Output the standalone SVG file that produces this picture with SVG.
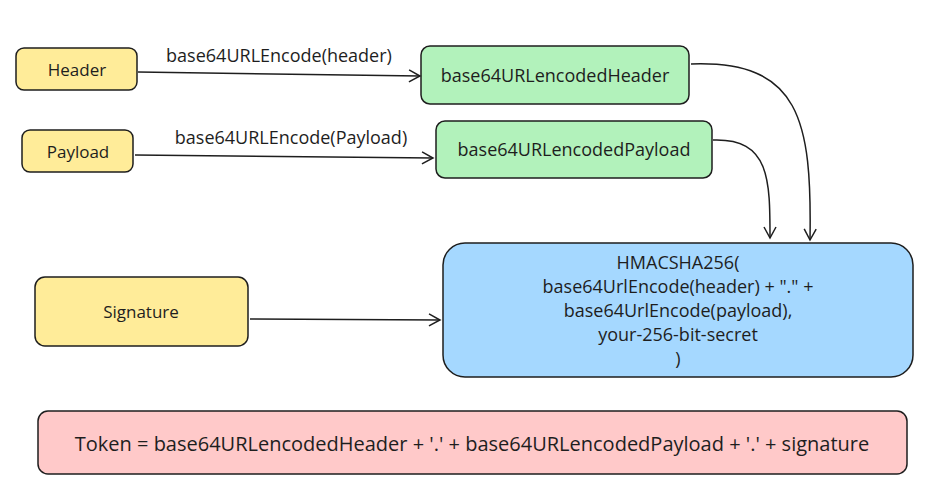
<svg xmlns="http://www.w3.org/2000/svg" width="943" height="501" viewBox="0 0 943 501">
<style>
.box{stroke:#1e1e1e;stroke-width:1.5}
.y{fill:#ffec99}.g{fill:#b2f2bb}.b{fill:#a5d8ff}.r{fill:#ffc9c9}
text{font-family:"Open Sans","Liberation Sans",sans-serif;font-size:17px;fill:#1e1e1e;text-anchor:middle;dominant-baseline:central}
.big{font-size:18px}
.c{fill:none;stroke:#1e1e1e;stroke-width:1.5;marker-end:url(#ah)}
</style>
<defs><marker id="ah" markerWidth="14" markerHeight="14" refX="12" refY="7" orient="auto" markerUnits="userSpaceOnUse"><path d="M1,1 L12,7 L1,13" fill="none" stroke="#1e1e1e" stroke-width="1.5"/></marker></defs>
<rect width="943" height="501" fill="#fff"/>
<g id="header"><rect class="box y" x="16" y="48" width="121" height="42" rx="8"/><text x="77" y="69">Header</text></g>
<g id="payload"><rect class="box y" x="22" y="130" width="111" height="42" rx="8"/><text x="78" y="151">Payload</text></g>
<g id="signature"><rect class="box y" x="35" y="277" width="213" height="69" rx="10"/><text x="141" y="311">Signature</text></g>
<g id="encHeader"><rect class="box g" x="421" y="46" width="268" height="58" rx="9"/><text class="big" x="555" y="75">base64URLencodedHeader</text></g>
<g id="encPayload"><rect class="box g" x="436" y="121" width="276" height="57" rx="9"/><text class="big" x="574" y="149">base64URLencodedPayload</text></g>
<g id="hmac"><rect class="box b" x="443" y="243" width="470" height="134" rx="22"/>
<text class="big" x="678" y="262">HMACSHA256(</text>
<text class="big" x="678" y="286">base64UrlEncode(header) + "." +</text>
<text class="big" x="678" y="310">base64UrlEncode(payload),</text>
<text class="big" x="678" y="334">your-256-bit-secret</text>
<text class="big" x="678" y="358">)</text></g>
<g id="token"><rect class="box r" x="38" y="411" width="869" height="63" rx="10"/><text x="472" y="443" style="font-size:20px">Token = base64URLencodedHeader + '.' + base64URLencodedPayload + '.' + signature</text></g>
<g id="connectors">
<path class="c" d="M138,72 L420,76"/><text class="big" x="279" y="55">base64URLEncode(header)</text>
<path class="c" d="M135,155 L433,158"/><text class="big" x="291" y="137">base64URLEncode(Payload)</text>
<path class="c" d="M250,319 L440,320"/>
<path class="c" d="M691,64 C800,60 812,120 810,240"/>
<path class="c" d="M713,140 C770,138 770,180 770,238"/>
</g>
</svg>
